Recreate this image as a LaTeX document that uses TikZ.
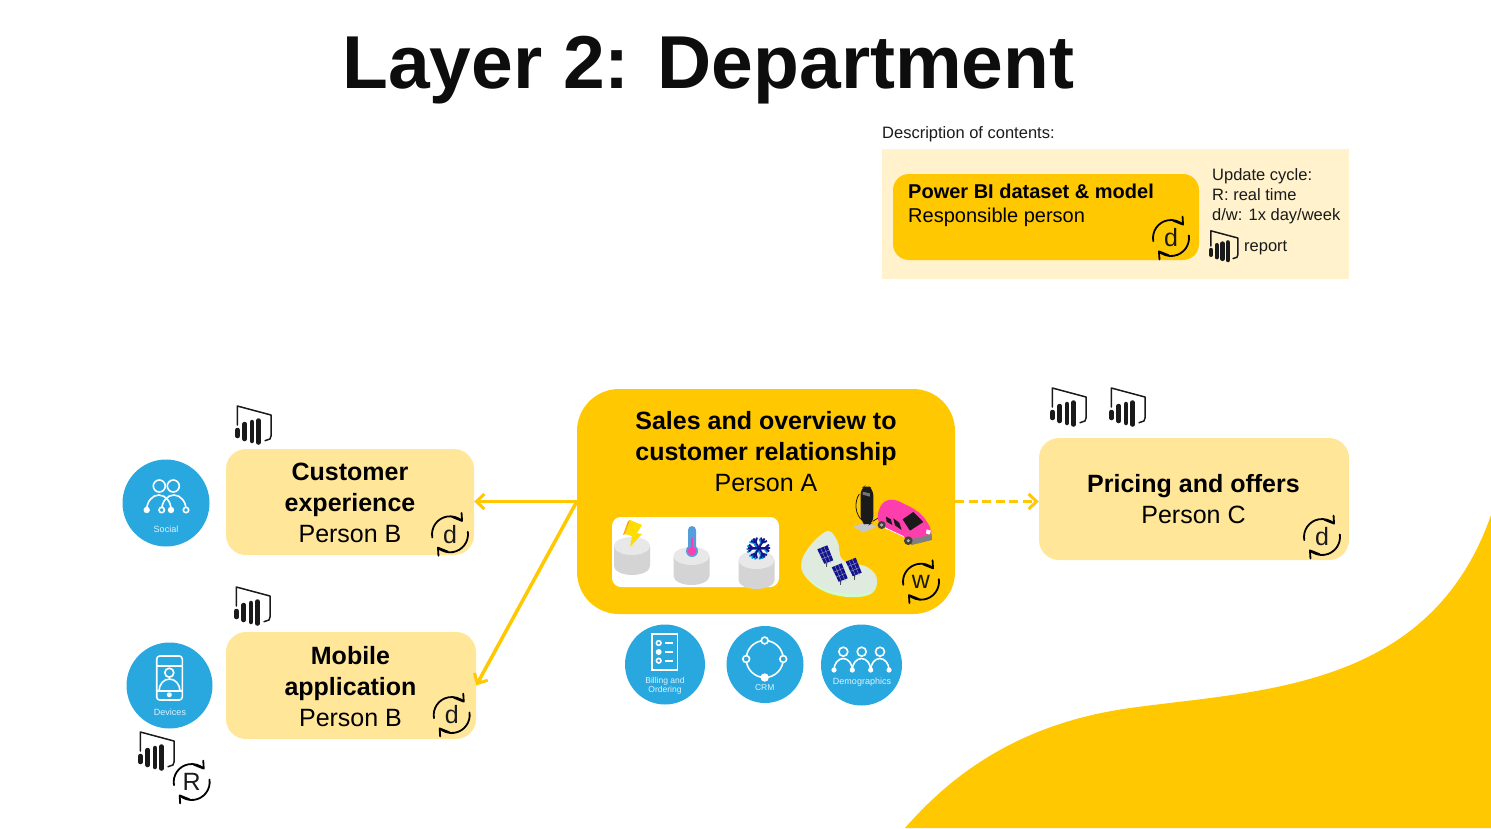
\documentclass[tikz,border=0pt]{standalone}
\usepackage{fontspec}
\setmainfont{Liberation Sans}
\usetikzlibrary{arrows.meta}
\definecolor{gold}{HTML}{FFC800}
\definecolor{lightgold}{HTML}{FFE699}
\definecolor{legendbg}{HTML}{FFF2CC}
\definecolor{iconblue}{HTML}{29A8E0}
\definecolor{pinkcar}{HTML}{FF3EAE}
\definecolor{navy}{HTML}{14148A}
\definecolor{ink}{HTML}{1A1A1A}
\newcommand{\fsz}[2]{\fontsize{#1}{#2}\selectfont}
\tikzset{
  x=1pt,y=-1pt,
  box/.style={rectangle,fill=lightgold,inner sep=0pt,rounded corners=20pt},
  mainbox/.style={rectangle,fill=gold,inner sep=0pt,rounded corners=42pt},
  boxtext/.style={align=center,inner sep=0pt,font=\fsz{25}{31}},
  legtext/.style={anchor=west,inner sep=0pt,font=\fsz{16.5}{20},text=ink},
  linktip/.style={-{Straight Barb[length=8pt,width=15pt,line width=3pt]},draw=gold,line width=3.5pt},
  iconline/.style={draw=white,line width=1.6pt,fill=none},
  iconlabel/.style={text=white!85!iconblue,inner sep=0pt,align=center,font=\fsz{9}{9.5}},
  bluecircle/.style={circle,fill=iconblue,inner sep=0pt},
  pics/pbi/.style={code={
    \draw[ink,line width=1.5pt,line join=round,line cap=round] (2.3,20) -- (2.3,1) -- (36,10) -- (36,31) -- ++(-1,3) -- (30,35.7);
    \draw[ink,line width=4.5pt,line cap=round] (2.5,25) -- (2.5,31);
    \draw[ink,line width=4.5pt,line cap=round] (9.7,19) -- (9.7,34);
    \draw[ink,line width=4.5pt,line cap=round] (17,17) -- (17,36);
    \draw[ink,line width=4.5pt,line cap=round] (23.5,15.5) -- (23.5,37.5);
  }},
  pics/refresh/.style={code={
    \draw[black,line width=1.8pt,line cap=round,line join=round] (170:18) arc[start angle=170,end angle=312,radius=18] ++(-10,-4) -- ++(10,4) -- ++(-.5,-8);
    \draw[black,line width=1.8pt,line cap=round,line join=round] (-8:18) arc[start angle=-8,end angle=132,radius=18] ++(10,4) -- ++(-10,-4) -- ++(.5,8);
    \node[inner sep=0pt,text=ink,font=\fsz{25}{25}] (-l) at (0,0) {#1};
  }},
  pics/drum/.style={code={
    \fill[black!17] (-18,0) -- (-18,20) arc[start angle=180,end angle=0,x radius=18,y radius=9] -- (18,0) -- cycle;
    \fill[black!9] (0,0) ellipse[x radius=18,y radius=9];
  }},
  pics/panel/.style={code={
    \draw[black!70,line width=1pt] (9,12) -- (9,18);
    \fill[navy] (0,0) -- (10,-4) -- (16,11) -- (7,14.5) -- cycle;
    \draw[white!55!navy,line width=.4pt] (2.3,4.8) -- (12,.8) (4.6,9.6) -- (14,5.9) (3.3,-1.3) -- (10.3,15.2) (6.6,-2.6) -- (13.6,13.8);
  }}
}
\begin{document}
\begin{tikzpicture}
\useasboundingbox (0,0) rectangle (1491,828);
% corner shape
\fill[gold] (905,828) .. controls (960,765) and (1030,722) .. (1130,708) .. controls (1260,690) and (1430,690) .. (1491,515) -- (1491,828) -- cycle;
% title
\node[inner sep=0pt,font=\bfseries\fsz{75}{80},text=black!95] (title) at (708.5,70) {Layer 2: Department};
% legend
\node[legtext] (legcap) at (882,134) {Description of contents:};
\node[rectangle,fill=legendbg,inner sep=0pt,minimum width=467pt,minimum height=130pt] (legend) at (1115.5,214) {};
\node[rectangle,fill=gold,inner sep=0pt,rounded corners=16pt,minimum width=306pt,minimum height=86pt] (legbox) at (1046,217) {};
\node[anchor=north west,inner sep=0pt,align=left,font=\fsz{20}{24.5}] (legboxtext) at (908,183.5) {\textbf{Power BI dataset \& model}\\Responsible person};
\node[legtext,align=left] (update) at (1212,196) {Update cycle:\\R: real time\\d/w: 1x day/week};
\node[legtext] (reporttext) at (1244,247.5) {report};
\pic[scale=.8] at (1209,230) {pbi};
\pic (rleg) at (1171,238) {refresh=d};
% boxes
\node[mainbox,minimum width=378pt,minimum height=225pt] (main) at (766,501.5) {};
\node[box,minimum width=248pt,minimum height=106pt] (cust) at (350,502) {};
\node[box,minimum width=250pt,minimum height=107pt] (mobile) at (351,685.5) {};
\node[box,minimum width=310pt,minimum height=122pt] (pricing) at (1194,499) {};
\node[boxtext] (maintext) at (766,452) {\textbf{Sales and overview to}\\\textbf{customer relationship}\\Person A};
\node[boxtext] (custtext) at (350,503) {\textbf{Customer}\\\textbf{experience}\\Person B};
\node[boxtext] (mobiletext) at (350.5,686.5) {\textbf{Mobile}\\\textbf{application}\\Person B};
\node[boxtext] (pricingtext) at (1193.5,499) {\textbf{Pricing and offers}\\Person C};
% connectors
\draw[linktip] (main.west) -- (main.west -| cust.east);
\draw[linktip] (main.west) -- (mobile.east);
\draw[linktip,dash pattern=on 9pt off 4.5pt] (main.east) -- (main.east -| pricing.west);
% refresh and report icons
\pic (r1) at (450,534.3) {refresh=d};
\pic (r2) at (451.7,715) {refresh=d};
\pic (r3) at (1322,537) {refresh=d};
\pic (r4) at (921,581.7) {refresh=w};
\pic (r5) at (191.7,782) {refresh=R};
\pic at (235,405) {pbi};
\pic at (234,586) {pbi};
\pic at (138,731) {pbi};
\pic at (1050,387) {pbi};
\pic at (1109,387) {pbi};
% sources panel
\node[rectangle,fill=white,inner sep=0pt,rounded corners=9pt,minimum width=167pt,minimum height=70pt] (sources) at (695.5,552) {};
\pic at (632,546) {drum};
\pic at (691.5,556) {drum};
\pic at (756.5,560) {drum};
\fill[yellow!80!orange] (630,520) -- (642,525) -- (637,533) -- (642,534) -- (630,547) -- (632,536) -- (625,534) -- cycle;
\fill[orange!70!yellow] (630,520) -- (628,521) -- (623,535) -- (625,534) -- cycle;
\fill[cyan!65!blue!70!white] (688,530) arc[start angle=180,end angle=360,radius=4] -- (696,547) -- (688,547) -- cycle;
\fill[cyan!65!blue!70!white] (692,551) circle[radius=6];
\fill[pinkcar] (692,551) circle[radius=4.3];
\fill[pinkcar] (690.6,538) rectangle (693.4,551);
\foreach \a in {0,60,...,300}{
  \begin{scope}[shift={(757.5,549)},rotate=\a]
    \draw[cyan!80!blue,line width=1.8pt] (0,0) -- (11,0) (7,0) -- (10,-3.5) (7,0) -- (10,3.5);
  \end{scope}}
\foreach \a in {0,60,...,300}{
  \begin{scope}[shift={(759,548)},rotate=\a]
    \draw[navy,line width=1.8pt] (0,0) -- (11,0) (6.5,0) -- (10,-3.5) (6.5,0) -- (10,3.5);
  \end{scope}}
% solar island
\fill[black!10!green!18!white,shift={(0,1.5)}] plot[smooth cycle,tension=.7] coordinates {(803,557) (825,532) (837,540) (843,560) (867,567) (877,580) (867,594) (833,593) (807,577)};
\fill[green!35!black!12!white] plot[smooth cycle,tension=.7] coordinates {(803,557) (825,532) (837,540) (843,560) (867,567) (877,580) (867,593) (833,591) (807,577)};
\pic at (817.3,549.3) {panel};
\pic at (831.7,567.3) {panel};
\pic at (845.7,561.7) {panel};
% charger and van
\begin{scope}[shift={(580,480)},x=.3333pt,y=-.3333pt]
  \fill[black!22] (820,140) -- (860,125) -- (890,140) -- (850,158) -- cycle;
  \draw[ink,line width=.8pt] (838,42) .. controls (822,65) and (825,105) .. (848,122);
  \fill[ink,rounded corners=6pt] (842,25) -- (860,14) -- (880,28) -- (880,128) -- (862,138) -- (842,125) -- cycle;
  \fill[black!55] (848,35) -- (870,40) -- (870,50) -- (848,44) -- cycle;
  \draw[ink,line width=.8pt] (878,124) -- (898,112);
  \fill[black!50] (975,172) -- (1055,160) -- (1056,180) -- (995,195) -- cycle;
  \fill[pinkcar,rounded corners=5pt] (892,100) -- (910,62) -- (945,58) -- (1000,85) -- (1030,108) -- (1056,150) -- (1050,165) -- (985,178) -- (940,155) -- (895,130) -- cycle;
  \fill[ink] (968,118) -- (1000,96) -- (1030,126) -- (990,152) -- cycle;
  \fill[ink] (940,115) -- (958,128) -- (965,150) -- (945,136) -- cycle;
  \fill[ink] (918,110) -- (933,118) -- (937,135) -- (920,125) -- cycle;
  \fill[white] (1040,148) -- (1053,152) -- (1048,164) -- (1038,160) -- cycle;
  \draw[white,line width=.7pt] (912,142) -- (972,170);
  \fill[black!75] (905,135) circle[radius=12];
  \fill[black!30] (905,135) circle[radius=5];
  \fill[black!75] (985,182) circle[radius=13];
  \fill[black!30] (985,182) circle[radius=5];
\end{scope}
% source circles
\node[bluecircle,minimum size=87pt] (social) at (166,503) {};
\draw[iconline] (159.3,486) circle[radius=6];
\draw[iconline] (173.3,486) circle[radius=6];
\draw[iconline] (146.7,510) arc[start angle=180,end angle=360,x radius=12.2,y radius=15];
\draw[iconline] (161.7,510) arc[start angle=180,end angle=360,x radius=12.2,y radius=15];
\fill[white] (146.7,510) circle[radius=3.2] (171,510) circle[radius=3.2];
\draw[iconline,fill=iconblue] (161.7,510) circle[radius=2.7];
\draw[iconline,fill=iconblue] (186,510) circle[radius=2.7];
\node[iconlabel] (sociallabel) at (166,529.5) {Social};
\node[bluecircle,minimum size=86pt] (devices) at (169.5,685.5) {};
\draw[iconline,rounded corners=3pt] (156.7,656) rectangle (182.3,700);
\draw[iconline] (156.7,666) -- (182.3,666) (156.7,691) -- (182.3,691);
\fill[white] (169.3,694.8) circle[radius=2.5];
\draw[iconline] (169.3,672.7) circle[radius=4.5];
\draw[iconline] (159,691) arc[start angle=180,end angle=360,x radius=10.5,y radius=12];
\node[iconlabel] (deviceslabel) at (170,712) {Devices};
\node[bluecircle,minimum size=80pt] (billing) at (665,664.5) {};
\draw[iconline] (651.7,634) rectangle (677.3,670);
\draw[iconline] (658.7,643) circle[radius=2.3];
\fill[white] (658.7,652) circle[radius=3];
\draw[iconline] (658.7,660.7) circle[radius=2.3];
\draw[iconline] (665,643) -- (672.7,643) (665,652) -- (672.7,652) (665,660.7) -- (672.7,660.7);
\node[iconlabel,font=\fsz{8.5}{9.2}] (billinglabel) at (665,685.5) {Billing and\\Ordering};
\node[bluecircle,minimum size=77pt] (crm) at (765,664.5) {};
\draw[iconline] (764.7,659) circle[radius=18.5];
\draw[iconline,fill=iconblue] (764.7,640.5) circle[radius=3.4];
\draw[iconline,fill=iconblue] (746.2,659) circle[radius=3.4];
\draw[iconline,fill=iconblue] (783.2,659) circle[radius=3.4];
\fill[white] (764.7,677.5) circle[radius=4.2];
\node[iconlabel,font=\fsz{8.5}{9}] (crmlabel) at (764.7,688) {CRM};
\node[bluecircle,minimum size=81pt] (demo) at (861.5,665) {};
\foreach \x in {843.3,861.7,880}{\draw[iconline] (\x,651.7) circle[radius=4.5];}
\foreach \x in {834,852.3,870.7}{\draw[iconline] (\x,670) arc[start angle=180,end angle=360,x radius=9.15,y radius=11.5];}
\foreach \x in {834,852.3,870.7,889}{\fill[white] (\x,670) circle[radius=2.6];}
\node[iconlabel] (demolabel) at (862,682) {Demographics};
\end{tikzpicture}
\end{document}
